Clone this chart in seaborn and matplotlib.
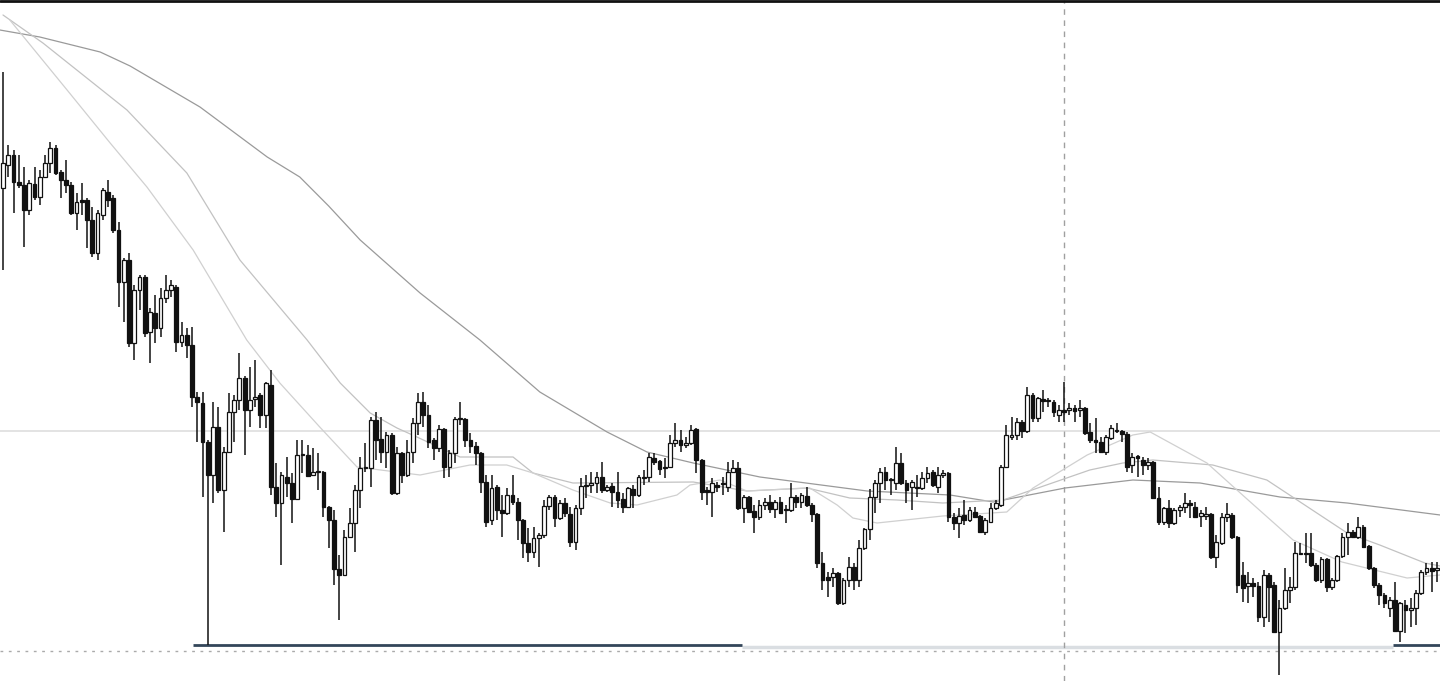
import numpy as np
import pandas as pd
import matplotlib
matplotlib.use("Agg")
import matplotlib.pyplot as plt
import seaborn as sns

sns.set_style("white")

# ---- candle data (price units, one bar per session) ----
opens = [
    512, 535, 545, 518, 515, 490, 516, 503, 523, 537,
    552, 528, 520, 515, 487, 500, 500, 480, 447, 485,
    508, 502, 470, 418, 440, 357, 410, 423, 368, 387,
    372, 402, 410, 413, 358, 365, 355, 303, 297, 258,
    225, 273, 210, 248, 288, 300, 322, 290, 301, 305,
    285, 315, 213, 197, 223, 217, 201, 245, 245, 225,
    228, 228, 193, 180, 131, 125, 163, 177, 210, 232,
    232, 280, 261, 248, 265, 207, 247, 225, 248, 277,
    298, 285, 260, 252, 271, 233, 247, 281, 281, 260,
    254, 247, 218, 180, 213, 190, 187, 205, 198, 180,
    157, 148, 162, 165, 194, 203, 182, 197, 186, 158,
    192, 214, 215, 217, 223, 210, 214, 208, 201, 193,
    211, 205, 222, 223, 242, 239, 232, 233, 257, 260,
    255, 257, 271, 240, 210, 208, 215, 216, 213, 228,
    232, 192, 203, 189, 183, 195, 198, 191, 198, 190,
    190, 203, 198, 204, 195, 186, 137, 123, 123, 127,
    97, 120, 133, 120, 152, 171, 203, 217, 228, 220,
    217, 237, 217, 213, 212, 212, 222, 228, 213, 225,
    227, 183, 177, 185, 180, 188, 184, 168, 178, 192,
    195, 233, 263, 265, 278, 269, 305, 282, 301, 299,
    298, 285, 290, 290, 292, 290, 292, 268, 260, 258,
    248, 262, 269, 269, 266, 235, 244, 240, 235, 238,
    202, 178, 192, 177, 190, 193, 197, 193, 184, 184,
    186, 143, 157, 183, 185, 163, 125, 114, 117, 114,
    83, 125, 115, 68, 92, 110, 113, 146, 147, 147,
    135, 120, 141, 113, 120, 144, 163, 168, 163, 173,
    154, 132, 115, 105, 92, 100, 69, 95, 90, 92,
    107, 128, 132, 130,
]
highs = [
    628, 555, 550, 545, 533, 520, 533, 530, 545, 558,
    555, 530, 540, 518, 507, 517, 502, 493, 490, 512,
    520, 505, 478, 442, 447, 415, 425, 425, 392, 405,
    412, 425, 420, 415, 378, 372, 373, 308, 308, 260,
    298, 293, 253, 307, 305, 347, 324, 333, 340, 307,
    318, 330, 237, 228, 243, 227, 260, 260, 255, 252,
    247, 229, 194, 190, 145, 170, 192, 215, 243, 257,
    283, 288, 283, 268, 267, 253, 248, 260, 282, 307,
    308, 295, 262, 275, 272, 250, 283, 298, 282, 267,
    258, 248, 225, 225, 215, 205, 212, 225, 202, 181,
    172, 173, 167, 200, 205, 205, 200, 202, 193, 195,
    222, 225, 228, 228, 238, 215, 217, 228, 207, 213,
    215, 225, 230, 247, 247, 240, 242, 265, 277, 270,
    263, 275, 272, 241, 213, 222, 218, 223, 238, 240,
    238, 205, 204, 195, 200, 202, 205, 200, 203, 195,
    217, 205, 207, 213, 197, 187, 148, 128, 132, 128,
    122, 143, 137, 160, 172, 211, 220, 232, 233, 222,
    253, 247, 220, 220, 225, 228, 233, 230, 233, 230,
    228, 187, 192, 200, 193, 193, 185, 182, 197, 200,
    235, 275, 283, 282, 280, 313, 307, 303, 310, 302,
    300, 295, 318, 297, 295, 300, 293, 277, 282, 263,
    265, 275, 277, 270, 268, 247, 245, 243, 242, 239,
    213, 193, 200, 192, 195, 207, 200, 198, 190, 193,
    187, 165, 187, 197, 187, 164, 138, 128, 122, 118,
    130, 127, 118, 100, 132, 123, 158, 157, 167, 167,
    137, 143, 142, 122, 145, 167, 177, 170, 183, 175,
    155, 133, 117, 107, 103, 118, 98, 100, 102, 110,
    130, 137, 138, 138,
]
lows = [
    430, 523, 487, 512, 453, 485, 500, 495, 522, 527,
    525, 502, 507, 485, 470, 485, 452, 443, 440, 480,
    493, 467, 393, 378, 353, 340, 390, 363, 337, 357,
    363, 397, 403, 348, 353, 342, 293, 258, 203, 55,
    197, 207, 168, 247, 258, 290, 245, 273, 293, 272,
    272, 205, 183, 135, 203, 177, 200, 227, 223, 224,
    210, 183, 152, 115, 80, 124, 162, 148, 192, 228,
    213, 240, 237, 232, 205, 205, 217, 223, 237, 265,
    273, 252, 240, 248, 222, 223, 237, 275, 253, 247,
    235, 207, 173, 175, 180, 163, 185, 195, 160, 142,
    138, 142, 133, 162, 190, 173, 180, 183, 153, 150,
    185, 202, 207, 207, 207, 208, 193, 192, 187, 192,
    192, 203, 215, 218, 235, 225, 222, 232, 253, 248,
    252, 255, 227, 200, 195, 183, 208, 205, 208, 227,
    190, 177, 187, 167, 180, 190, 187, 182, 186, 177,
    188, 192, 192, 193, 178, 132, 110, 103, 113, 95,
    95, 113, 110, 113, 150, 160, 187, 197, 210, 205,
    210, 215, 197, 190, 203, 210, 217, 213, 207, 222,
    178, 170, 162, 175, 178, 182, 167, 165, 177, 190,
    193, 232, 260, 260, 262, 267, 278, 278, 288, 293,
    283, 278, 278, 285, 278, 283, 265, 257, 247, 247,
    245, 260, 267, 258, 228, 227, 223, 225, 230, 201,
    175, 175, 172, 175, 183, 187, 182, 182, 173, 180,
    141, 132, 155, 178, 161, 107, 98, 97, 103, 78,
    73, 78, 67, 25, 90, 97, 110, 145, 137, 133,
    118, 117, 108, 110, 118, 142, 145, 162, 161, 152,
    130, 112, 95, 92, 83, 68, 58, 67, 73, 75,
    105, 125, 108, 118,
]
closes = [
    537, 545, 518, 515, 490, 517, 503, 523, 537, 552,
    527, 520, 515, 487, 498, 498, 480, 447, 487, 510,
    500, 470, 418, 440, 357, 410, 423, 367, 388, 372,
    402, 410, 415, 358, 365, 355, 303, 298, 258, 225,
    273, 210, 248, 288, 300, 322, 290, 300, 303, 285,
    317, 213, 197, 225, 217, 201, 245, 246, 224, 228,
    229, 193, 180, 131, 125, 163, 177, 210, 232, 233,
    280, 260, 248, 265, 207, 247, 225, 248, 277, 298,
    285, 258, 252, 271, 233, 247, 281, 282, 260, 254,
    247, 218, 178, 212, 190, 187, 205, 198, 180, 157,
    148, 162, 165, 194, 203, 182, 197, 187, 158, 192,
    214, 215, 217, 223, 210, 213, 208, 200, 193, 212,
    205, 223, 223, 243, 238, 231, 233, 257, 260, 255,
    257, 270, 240, 208, 208, 217, 213, 217, 228, 232,
    192, 203, 188, 183, 195, 198, 191, 198, 187, 191,
    203, 198, 205, 195, 186, 137, 120, 120, 127, 97,
    120, 133, 120, 152, 171, 203, 217, 228, 220, 221,
    237, 217, 210, 218, 213, 222, 227, 215, 225, 227,
    183, 177, 184, 180, 190, 183, 168, 180, 192, 197,
    233, 265, 265, 278, 269, 305, 282, 302, 299, 300,
    288, 290, 288, 292, 289, 292, 267, 260, 258, 248,
    263, 272, 270, 266, 233, 243, 242, 235, 238, 202,
    178, 192, 177, 190, 193, 197, 195, 183, 187, 186,
    143, 158, 183, 186, 163, 115, 112, 117, 114, 83,
    125, 113, 68, 92, 110, 113, 147, 147, 146, 135,
    120, 141, 113, 120, 144, 163, 168, 163, 173, 153,
    132, 115, 105, 97, 100, 69, 97, 90, 92, 107,
    128, 132, 129, 132,
]

# ---- moving averages (bar index, value) ----
ma_slow_bar = [-0.6, 7.0, 18.5, 24.2, 37.5, 50.3, 56.5, 62.0, 68.0, 79.4, 90.8, 102.2, 115.0,
               122.6, 131.4, 144.1, 164.5, 180.3, 188.5, 202.2, 215.1, 227.9, 243.1,
               255.9, 273.6]
ma_slow_val = [670, 663, 648, 634, 593, 543, 523, 494, 460, 407, 360, 308, 268,
               248, 237, 223, 209, 205, 198, 212, 220, 217, 203,
               197, 185]
ma_mid_bar = [0.0, 7.6, 23.6, 35.0, 45.1, 57.9, 64.2, 69.9, 75.0, 78.8, 87.0, 97.1,
              100.9, 108.5, 131.4, 141.6, 153.1, 161.2, 170.2, 178.9, 190.4, 206.9,
              213.2, 218.9, 230.3, 240.6, 255.9, 262.1, 270.7, 273.6]
ma_mid_val = [685, 657, 590, 527, 440, 360, 317, 287, 272, 263, 243, 243,
              227, 217, 218, 209, 212, 202, 200, 197, 200, 230,
              237, 240, 235, 220, 167, 155, 137, 134]
ma_fast_bar = [1.3, 12.2, 20.4, 27.4, 36.2, 46.4, 52.7, 60.3, 67.4, 79.4, 88.9, 95.9,
               100.9, 108.5, 115.6, 120.7, 128.3, 130.8, 136.5, 141.6, 153.6, 158.8,
               161.8, 166.4, 178.9, 182.2, 191.1, 196.1, 206.4, 215.1, 218.4, 229.2,
               236.4, 245.6, 254.9, 267.3, 273.6]
ma_fast_val = [680, 610, 557, 513, 450, 360, 317, 273, 233, 225, 235, 235,
               227, 210, 197, 195, 205, 215, 220, 209, 212, 195,
               182, 177, 184, 185, 188, 212, 245, 265, 268, 237,
               203, 160, 138, 122, 125]

# ---- reference levels ----
resistance_level = 269
support_level = 55
dotted_level = 49
cursor_bar = 202
support_segments = [(36.2, 140.7), (264.6, 274.0)]
faded_segment = (140.7, 264.6)

O = np.array(opens, float)
H = np.array(highs, float)
L = np.array(lows, float)
C = np.array(closes, float)
n = len(O)
idx = np.arange(n)
H = np.maximum(H, np.maximum(O, C))
L = np.minimum(L, np.minimum(O, C))
up = C >= O

fig = plt.figure(figsize=(14.4, 6.81), dpi=100)
ax = fig.add_axes([0, 0, 1, 1])
ax.set_facecolor("white")

ax.axhline(resistance_level, color="#e0e0e0", lw=1.3, zorder=1)
ax.axhline(dotted_level, color="#aaaaaa", lw=1.0, linestyle=(0, (2, 4)), zorder=1)
ax.hlines(support_level - 1.5, faded_segment[0], faded_segment[1], color="#dadee2", lw=2.5, zorder=1)
for a, b in support_segments:
    ax.hlines(support_level, a, b, color="#33465a", lw=2.0, zorder=2)
ax.axvline(cursor_bar, color="#a0a0a0", lw=1.0, linestyle=(0, (4, 4)), zorder=1)

ma_df = pd.concat([
    pd.DataFrame({"bar": ma_slow_bar, "value": ma_slow_val, "ma": "slow"}),
    pd.DataFrame({"bar": ma_mid_bar, "value": ma_mid_val, "ma": "mid"}),
    pd.DataFrame({"bar": ma_fast_bar, "value": ma_fast_val, "ma": "fast"}),
])
sns.lineplot(data=ma_df, x="bar", y="value", hue="ma", estimator=None,
             palette={"slow": "#9a9a9a", "mid": "#c2c2c2", "fast": "#d0d0d0"},
             linewidth=0.9, legend=False, ax=ax, zorder=2)

ax.vlines(idx, L, H, color="#111111", lw=1.1, zorder=3)
bottoms = np.minimum(O, C)
heights = np.maximum(np.abs(C - O), 1.2)
ax.bar(idx, heights, bottom=bottoms, width=0.72,
       color=np.where(up, "white", "#111111"), edgecolor="#111111",
       linewidth=0.9, zorder=4)

ax.axhline(699, color="#111111", lw=2.0, zorder=5)

ax.set_xlim(-0.571, n - 1 + 0.571)
ax.set_ylim(19, 700)
ax.set_axis_off()

fig.savefig("out.png", dpi=100, facecolor="white")
